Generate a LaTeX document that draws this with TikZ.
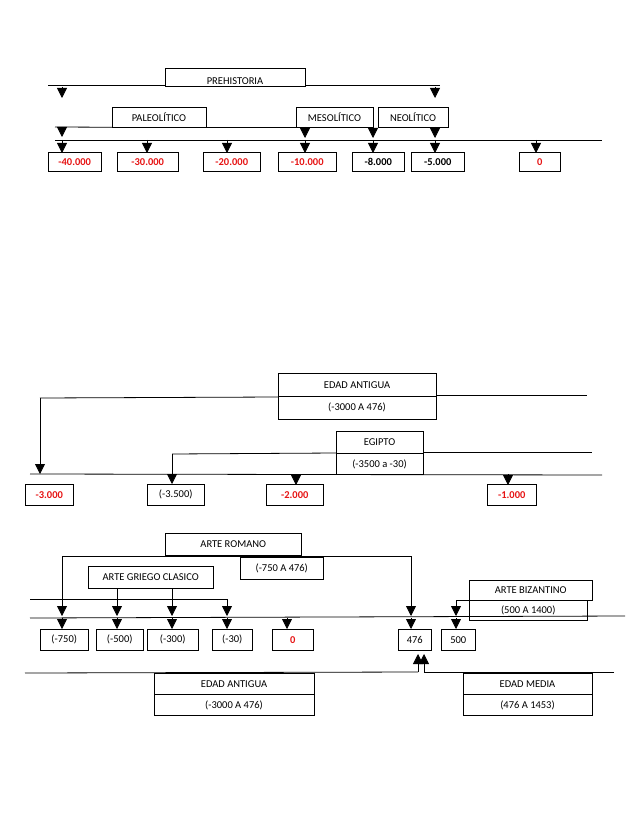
\documentclass[tikz,border=0pt]{standalone}
\usepackage{fontspec}
\setmainfont{Carlito}
\usetikzlibrary{arrows.meta}
\definecolor{rd}{RGB}{230,20,20}
\begin{document}
\begin{tikzpicture}[x=1pt,y=-1pt,
  ln/.style={line width=0.8pt},
  ar/.style={ln,-{Triangle[width=10pt,length=10pt]}},
  fs/.style={font=\fontsize{10.5}{12}\selectfont},
  bx/.style={draw,line width=0.5pt,inner sep=0pt,fs},
  num/.style={bx,text=rd,font=\fontsize{10.5}{12}\selectfont\bfseries}]
\useasboundingbox (0,0) rectangle (638,826);
% ---------- Section 1
\node[bx,minimum width=140,minimum height=18] (pre) at (235,77) {};
\node[fs] (pret) at (235,81) {PREHISTORIA};
\draw[ln] (48,85) -- (pre.west|-0,85); \draw[ln] (pre.east|-0,85) -- (440,85);
\coordinate (p1) at (62,87); \coordinate (p2) at (435,87);
\draw[ar] (p1) -- +(0,11); \draw[ar] (p2) -- +(0,11);
\node[bx,minimum width=94,minimum height=20] (pal) at (159,117) {PALEOLÍTICO};
\node[bx,minimum width=77,minimum height=20] (mes) at (334.5,117) {MESOLÍTICO};
\node[bx,minimum width=70,minimum height=20] (neo) at (413,117) {NEOLÍTICO};
\draw[ln] (55,127) -- (pal.south west); \draw[ln] (pal.south east) -- (mes.south west);
\coordinate (q1) at (62,127);
\draw[ar] (q1) -- +(0,10);
\foreach \x in {305,373,435} \draw[ar] (\x,127) -- (\x,138);
\draw[ln] (55,140) -- (602,140);
\foreach \x in {62,147,227,305,373,435,536} \draw[ar] (\x,140) -- (\x,153);
\foreach \a/\b/\t/\c [count=\i] in {48/101/-40.000/rd,117/178/-30.000/rd,203/260/-20.000/rd,278/336/-10.000/rd,352/404/-8.000/black,411/464/-5.000/black,519/560/0/rd}
  \node[bx,text=\c,font=\fontsize{10.5}{12}\selectfont\bfseries,minimum width=\b-\a,minimum height=19,anchor=north west] (n\i) at (\a,152) {\raisebox{-4pt}{\t}};
% ---------- Section 2
\node[bx,minimum width=158,minimum height=46,anchor=north west] (ea) at (278,373) {};
\draw[line width=0.5pt] (278,396) -- (436,396);
\node[fs] (eat) at (357,385) {EDAD ANTIGUA};
\node[fs] (ead) at (357,407) {(-3000 A 476)};
\draw[ln] (278,397) -- (40,398); \draw[ar] (40,398) -- (40,474);
\draw[ln] (436,395) -- (587,395);
\node[bx,minimum width=87,minimum height=43,anchor=north west] (eg) at (336,431) {};
\draw[line width=0.5pt] (336,453) -- (423,453);
\node[fs] (egt) at (379.5,442) {EGIPTO};
\node[fs] (egd) at (379.5,464) {(-3500 a -30)};
\draw[ln] (336,453) -- (172,454); \draw[ar] (172,454) -- (172,484);
\draw[ln] (423,452) -- (592,452);
\draw[ln] (30,474) -- (602,475);
\foreach \x in {296,508} \draw[ar] (\x,474) -- (\x,485);
\node[num,minimum width=48,minimum height=21,anchor=north west] (m1) at (25,484) {-3.000};
\node[bx,minimum width=57,minimum height=21,anchor=north west] (m2) at (147,484) {(-3.500)};
\node[num,minimum width=57,minimum height=21,anchor=north west] (m3) at (266,484) {-2.000};
\node[num,minimum width=49,minimum height=21,anchor=north west] (m4) at (487,484) {-1.000};
% ---------- Section 3
\node[bx,minimum width=136,minimum height=22,anchor=north west] (ar) at (165,533) {ARTE ROMANO};
\node[bx,minimum width=83,minimum height=22,anchor=north west] (ard) at (240,557) {(-750 A 476)};
\draw[ln] (62,556) -- (411,556);
\draw[ar] (62,556) -- (62,616); \draw[ar] (411,556) -- (411,616);
\node[bx,minimum width=125,minimum height=22,anchor=north west] (gr) at (88,566) {ARTE GRIEGO CLASICO};
\draw[ar] (117,588) -- (117,616); \draw[ar] (172,588) -- (172,616);
\draw[ln] (30,599) -- (227,599); \draw[ar] (227,599) -- (227,616);
\draw[ln] (30,618) -- (625,616);
\node[bx,minimum width=123,minimum height=20,anchor=north west] (bz) at (469,580) {ARTE BIZANTINO};
\node[bx,minimum width=118,minimum height=20,anchor=north west] (bzd) at (469,600) {(500 A 1400)};
\draw[ln] (469,600) -- (456,600); \draw[ar] (456,600) -- (456,616);
\foreach \x in {62,117,172,227,287,411,456} \draw[ar] (\x,618) -- (\x,629);
\foreach \a/\b/\t [count=\i] in {40/88/(-750),96/143/(-500),147/198/(-300),212/252/(-30),398/431/476,441/475/500}
  \node[bx,minimum width=\b-\a,minimum height=21,anchor=north west] (r\i) at (\a,629) {\t};
\node[num,minimum width=41,minimum height=21,anchor=north west] (r0) at (272,629) {0};
\node[bx,minimum width=160,minimum height=42,anchor=north west] (ea2) at (154,673) {};
\draw[line width=0.5pt] (154,694) -- (314,694);
\node[fs] (ea2t) at (234,684) {EDAD ANTIGUA};
\node[fs] (ea2d) at (234,705) {(-3000 A 476)};
\node[bx,minimum width=129,minimum height=42,anchor=north west] (em) at (463,673) {};
\draw[line width=0.5pt] (463,694) -- (592,694);
\node[fs] (emt) at (527.5,684) {EDAD MEDIA};
\node[fs] (emd) at (527.5,705) {(476 A 1453)};
\draw[ln] (25,673) -- (418,672); \draw[ar] (418,672) -- (418,654);
\draw[ln] (614,672) -- (424,672); \draw[ar] (424,672) -- (424,654);
\end{tikzpicture}
\end{document}
